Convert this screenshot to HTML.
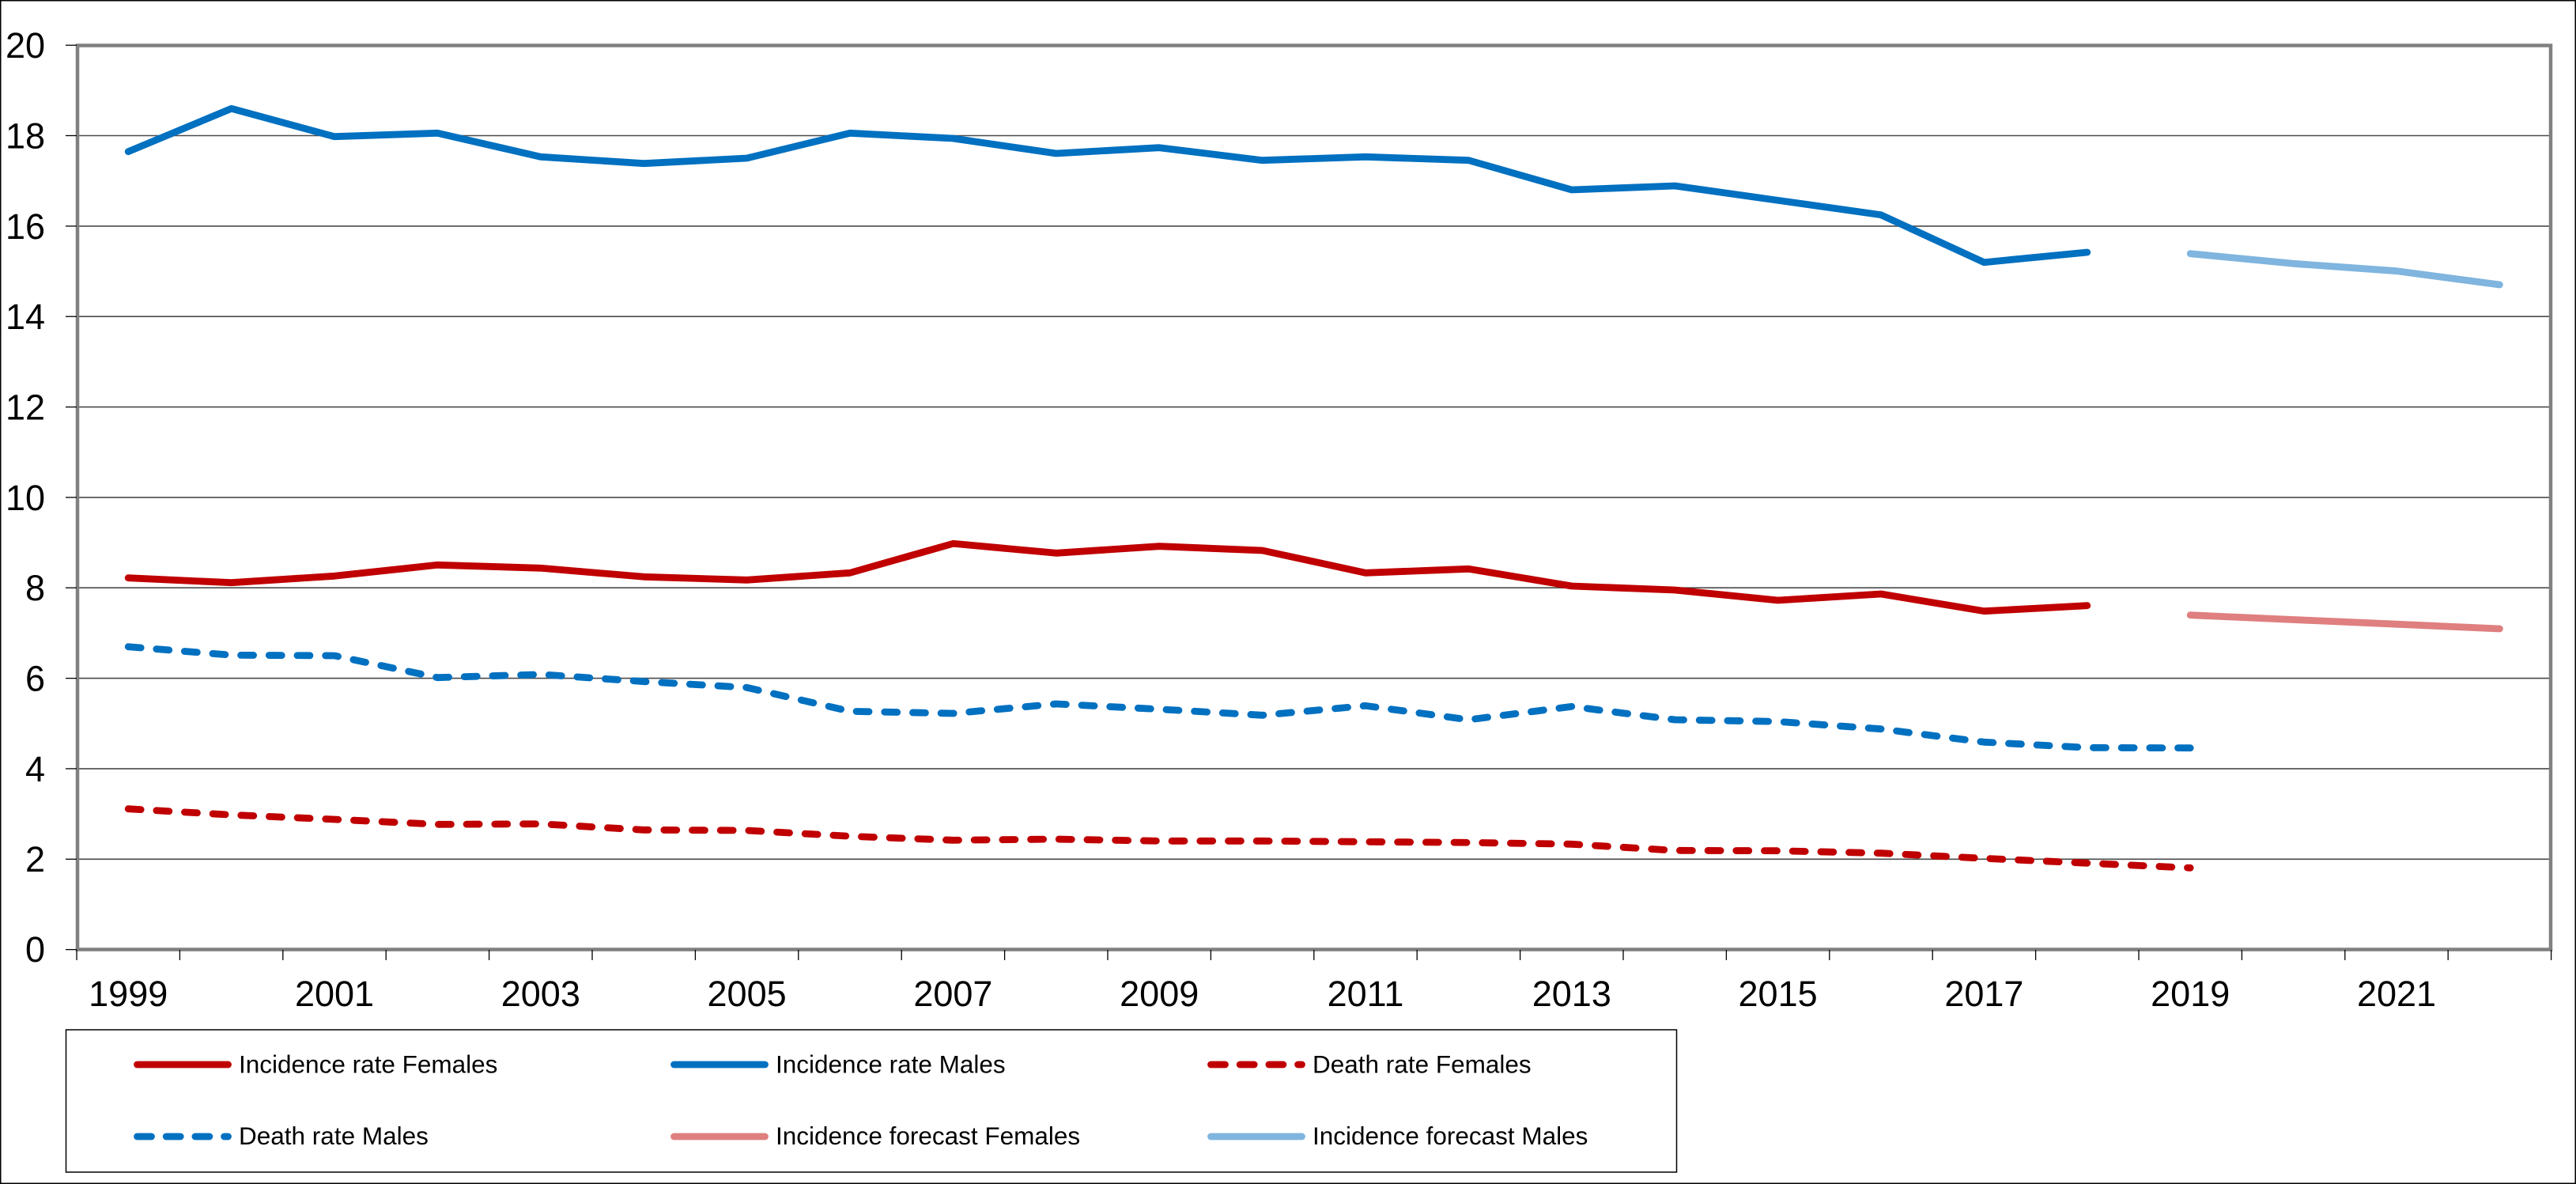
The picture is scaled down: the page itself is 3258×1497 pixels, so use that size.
<!DOCTYPE html>
<html>
<head>
<meta charset="utf-8">
<style>
html,body{margin:0;padding:0;background:#fff;}
svg{display:block;}
text{font-family:"Liberation Sans",Arial,sans-serif;fill:#000;}
</style>
</head>
<body>
<svg width="3258" height="1497" viewBox="0 0 3258 1497" xmlns="http://www.w3.org/2000/svg">
<rect x="0" y="0" width="3258" height="1497" fill="#fff"/>
<rect x="0.75" y="0.75" width="3256.5" height="1495.5" fill="none" stroke="#000" stroke-width="1.5"/>

<!-- gridlines -->
<g stroke="#4a4a4a" stroke-width="1.6">
<line x1="98" y1="1086.3" x2="3226" y2="1086.3"/>
<line x1="98" y1="971.9" x2="3226" y2="971.9"/>
<line x1="98" y1="857.6" x2="3226" y2="857.6"/>
<line x1="98" y1="743.2" x2="3226" y2="743.2"/>
<line x1="98" y1="628.9" x2="3226" y2="628.9"/>
<line x1="98" y1="514.6" x2="3226" y2="514.6"/>
<line x1="98" y1="400.2" x2="3226" y2="400.2"/>
<line x1="98" y1="285.9" x2="3226" y2="285.9"/>
<line x1="98" y1="171.5" x2="3226" y2="171.5"/>
</g>

<!-- plot border -->
<rect x="98" y="57.5" width="3128" height="1143" fill="none" stroke="#808080" stroke-width="4.5"/>

<!-- y ticks -->
<g stroke="#000" stroke-width="1.3">
<line x1="83" y1="1200.6" x2="97" y2="1200.6"/>
<line x1="83" y1="1086.3" x2="97" y2="1086.3"/>
<line x1="83" y1="971.9" x2="97" y2="971.9"/>
<line x1="83" y1="857.6" x2="97" y2="857.6"/>
<line x1="83" y1="743.2" x2="97" y2="743.2"/>
<line x1="83" y1="628.9" x2="97" y2="628.9"/>
<line x1="83" y1="514.6" x2="97" y2="514.6"/>
<line x1="83" y1="400.2" x2="97" y2="400.2"/>
<line x1="83" y1="285.9" x2="97" y2="285.9"/>
<line x1="83" y1="171.5" x2="97" y2="171.5"/>
<line x1="83" y1="57.2" x2="97" y2="57.2"/>
</g>

<!-- x ticks -->
<g stroke="#000" stroke-width="1.3">
<line x1="97" y1="1201" x2="97" y2="1214"/>
<line x1="227.4" y1="1201" x2="227.4" y2="1214"/>
<line x1="357.8" y1="1201" x2="357.8" y2="1214"/>
<line x1="488.2" y1="1201" x2="488.2" y2="1214"/>
<line x1="618.6" y1="1201" x2="618.6" y2="1214"/>
<line x1="749" y1="1201" x2="749" y2="1214"/>
<line x1="879.4" y1="1201" x2="879.4" y2="1214"/>
<line x1="1009.8" y1="1201" x2="1009.8" y2="1214"/>
<line x1="1140.2" y1="1201" x2="1140.2" y2="1214"/>
<line x1="1270.6" y1="1201" x2="1270.6" y2="1214"/>
<line x1="1401" y1="1201" x2="1401" y2="1214"/>
<line x1="1531.4" y1="1201" x2="1531.4" y2="1214"/>
<line x1="1661.8" y1="1201" x2="1661.8" y2="1214"/>
<line x1="1792.2" y1="1201" x2="1792.2" y2="1214"/>
<line x1="1922.6" y1="1201" x2="1922.6" y2="1214"/>
<line x1="2053" y1="1201" x2="2053" y2="1214"/>
<line x1="2183.4" y1="1201" x2="2183.4" y2="1214"/>
<line x1="2313.8" y1="1201" x2="2313.8" y2="1214"/>
<line x1="2444.2" y1="1201" x2="2444.2" y2="1214"/>
<line x1="2574.6" y1="1201" x2="2574.6" y2="1214"/>
<line x1="2705" y1="1201" x2="2705" y2="1214"/>
<line x1="2835.4" y1="1201" x2="2835.4" y2="1214"/>
<line x1="2965.8" y1="1201" x2="2965.8" y2="1214"/>
<line x1="3096.2" y1="1201" x2="3096.2" y2="1214"/>
<line x1="3226.6" y1="1201" x2="3226.6" y2="1214"/>
</g>

<!-- y labels -->
<g font-size="45" text-anchor="end">
<text x="57" y="1216">0</text>
<text x="57" y="1102">2</text>
<text x="57" y="988">4</text>
<text x="57" y="873.5">6</text>
<text x="57" y="759">8</text>
<text x="57" y="645">10</text>
<text x="57" y="530.5">12</text>
<text x="57" y="416">14</text>
<text x="57" y="302">16</text>
<text x="57" y="187.5">18</text>
<text x="57" y="73">20</text>
</g>

<!-- x labels -->
<g font-size="45" text-anchor="middle">
<text x="162.2" y="1272">1999</text>
<text x="423" y="1272">2001</text>
<text x="683.8" y="1272">2003</text>
<text x="944.6" y="1272">2005</text>
<text x="1205.4" y="1272">2007</text>
<text x="1466.2" y="1272">2009</text>
<text x="1727" y="1272">2011</text>
<text x="1987.8" y="1272">2013</text>
<text x="2248.6" y="1272">2015</text>
<text x="2509.4" y="1272">2017</text>
<text x="2770.2" y="1272">2019</text>
<text x="3031" y="1272">2021</text>
</g>

<!-- series -->
<g fill="none" stroke-width="8.8" stroke-linejoin="round" stroke-linecap="round">
<!-- Death rate Females -->
<polyline stroke="#C00000" stroke-dasharray="16 19.7" points="162.2,1022.7 292.6,1030.3 423,1036 553.4,1042.3 683.8,1041.7 814.2,1049.3 944.6,1050 1075,1057.3 1205.4,1062.3 1335.8,1061 1466.2,1063.3 1596.6,1063.3 1727,1064.3 1857.4,1065.3 1987.8,1067.3 2118.2,1075.3 2248.6,1075.7 2379,1078.7 2509.4,1085.3 2639.8,1091.3 2770.2,1097.3"/>
<!-- Death rate Males -->
<polyline stroke="#0070C0" stroke-dasharray="16 19.7" points="162.2,817.7 292.6,828.3 423,829 553.4,856.7 683.8,852.7 814.2,861.7 944.6,869.3 1075,899.3 1205.4,902 1335.8,890 1466.2,896.7 1596.6,904.3 1727,892.3 1857.4,910 1987.8,893.3 2118.2,910 2248.6,912.3 2379,921.7 2509.4,938.3 2639.8,945.3 2770.2,945.7"/>
<!-- Incidence forecast Females -->
<polyline stroke="#DF7F7F" points="2770.2,777.7 2900.6,783.5 3031,789.2 3161.4,795"/>
<!-- Incidence forecast Males -->
<polyline stroke="#7FB5DF" points="2770.2,320.7 2900.6,333.3 3031,342.7 3161.4,360"/>
<!-- Incidence rate Females -->
<polyline stroke="#C00000" points="162.2,730.7 292.6,736.7 423,728.3 553.4,714.3 683.8,718.3 814.2,729.3 944.6,733.3 1075,724.3 1205.4,687.3 1335.8,699.3 1466.2,690.7 1596.6,696 1727,724.3 1857.4,719.3 1987.8,741 2118.2,746 2248.6,759 2379,751 2509.4,772.7 2639.8,765.7"/>
<!-- Incidence rate Males -->
<polyline stroke="#0070C0" points="162.2,191.7 292.6,137.3 423,172.7 553.4,168.3 683.8,198.3 814.2,206.7 944.6,200 1075,168.3 1205.4,175 1335.8,194 1466.2,186.7 1596.6,202.7 1727,198.3 1857.4,202.7 1987.8,240 2118.2,235 2248.6,253.3 2379,271.7 2509.4,331.7 2639.8,319"/>
</g>

<!-- legend -->
<rect x="83.5" y="1302" width="2037" height="180" fill="#fff" stroke="#000" stroke-width="1.5"/>
<g fill="none" stroke-width="8.8" stroke-linecap="round">
<line x1="173.5" y1="1346" x2="288.5" y2="1346" stroke="#C00000"/>
<line x1="852.5" y1="1346" x2="967.5" y2="1346" stroke="#0070C0"/>
<line x1="1531.5" y1="1346" x2="1646.5" y2="1346" stroke="#C00000" stroke-dasharray="18 18.7"/>
<line x1="173.5" y1="1437" x2="288.5" y2="1437" stroke="#0070C0" stroke-dasharray="18 18.7"/>
<line x1="852.5" y1="1437" x2="967.5" y2="1437" stroke="#DF7F7F"/>
<line x1="1531.5" y1="1437" x2="1646.5" y2="1437" stroke="#7FB5DF"/>
</g>
<g font-size="31.5">
<text x="302" y="1356.5">Incidence rate Females</text>
<text x="981" y="1356.5">Incidence rate Males</text>
<text x="1660" y="1356.5">Death rate Females</text>
<text x="302" y="1447">Death rate Males</text>
<text x="981" y="1447">Incidence forecast Females</text>
<text x="1660" y="1447">Incidence forecast Males</text>
</g>
</svg>
</body>
</html>
